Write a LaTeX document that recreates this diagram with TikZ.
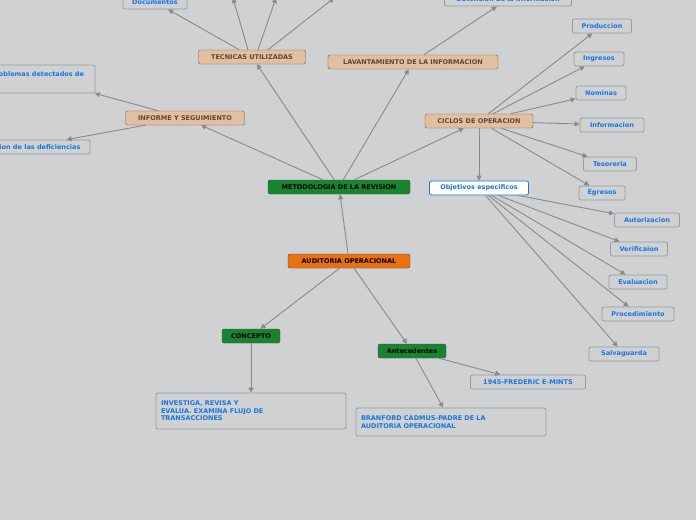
\documentclass[tikz,border=0pt]{standalone}
\usepackage{fontspec}
\setmainfont{DejaVu Sans}
\usetikzlibrary{arrows.meta}
\definecolor{bg}{HTML}{D0D1D3}
\definecolor{link}{HTML}{8A8A8A}
\definecolor{tan}{HTML}{E3BF9F}
\definecolor{tanline}{HTML}{6E5A48}
\definecolor{grn}{HTML}{188430}
\definecolor{org}{HTML}{EB710F}
\definecolor{txtblue}{HTML}{1A74E0}
\definecolor{leafline}{HTML}{9A9B9D}
\begin{document}
\begin{tikzpicture}[x=1pt,y=-1pt,
    every node/.style={rounded corners=2pt, font=\fontsize{6.5}{7.6}\selectfont\bfseries, inner sep=2pt},
    topic/.style={draw=tanline, fill=tan, text=tanline!80!black, minimum height=14pt},
    main/.style={draw=black!70, fill=grn, text=black, minimum height=14pt},
    root/.style={draw=black!70, fill=org, text=black, minimum height=14pt},
    leaf/.style={draw=leafline, line width=0.8pt, text=txtblue, minimum height=14pt},
    arr/.style={draw=link, line width=0.9pt, -{Triangle[length=5pt,width=5pt]}}]
  \fill[bg] (0,0) rectangle (696,520);
  \useasboundingbox (0,0) rectangle (696,520);

  % main branches
  \node[root, minimum width=122pt] (aud) at (349,261) {AUDITORIA OPERACIONAL};
  \node[main, minimum width=142pt] (met) at (339,187) {METODOLOGIA DE LA REVISION};
  \node[main, minimum width=58pt] (con) at (251,336) {CONCEPTO};
  \node[main, minimum width=68pt] (ant) at (412,351) {Antecedentes};

  % metodologia
  \node[topic, minimum width=107pt] (tec) at (252,57) {TECNICAS UTILIZADAS};
  \node[topic, minimum width=170pt] (lev) at (413,62) {LAVANTAMIENTO DE LA INFORMACION};
  \node[topic, minimum width=119pt] (inf) at (185,118) {INFORME Y SEGUIMIENTO};
  \node[topic, minimum width=108pt] (cic) at (479,121) {CICLOS DE OPERACION};
  \node[leaf, fill=white, draw=txtblue, minimum width=99pt] (obj) at (479,188) {Objetivos especificos};

  % leaves
  \node[leaf, minimum width=64pt] (doc) at (155,2) {Documentos};
  \node[leaf, minimum width=127pt] (obt) at (508,-1) {Obtencion de la informacion};
  \node[leaf, minimum width=106pt, minimum height=28pt, align=left, text width=102pt] (pro) at (42,79) {Problemas detectados de\\\strut};
  \node[leaf, minimum width=128pt] (cor) at (26,147) {Correccion de las deficiencias};
  \node[leaf, minimum width=59pt] (prod) at (602,26) {Produccion};
  \node[leaf, minimum width=50pt] (ing) at (599,59) {Ingresos};
  \node[leaf, minimum width=50pt] (nom) at (601,93) {Nominas};
  \node[leaf, minimum width=64pt] (infm) at (612,125) {Informacion};
  \node[leaf, minimum width=53pt] (tes) at (610,164) {Tesoreria};
  \node[leaf, minimum width=46pt] (egr) at (602,193) {Egresos};
  \node[leaf, minimum width=65pt] (aut) at (647,220) {Autorizacion};
  \node[leaf, minimum width=57pt] (ver) at (639,249) {Verificaion};
  \node[leaf, minimum width=58pt] (eva) at (638,282) {Evaluacion};
  \node[leaf, minimum width=72pt] (proc) at (638,314) {Procedimiento};
  \node[leaf, minimum width=70pt] (sal) at (624,354) {Salvaguarda};
  \node[leaf, minimum width=115pt] (fre) at (528,382) {1945-FREDERIC E-MINTS};
  \node[leaf, minimum width=190pt, minimum height=28pt, align=left, text width=180pt] (bra) at (451,422) {BRANFORD CADMUS-PADRE DE LA\\AUDITORIA OPERACIONAL};
  \node[leaf, minimum width=190pt, minimum height=36pt, align=left, text width=180pt] (inv) at (251,411) {INVESTIGA, REVISA Y\\EVALUA. EXAMINA FLUJO DE\\TRANSACCIONES};

  \coordinate (up1) at (233,-2);
  \coordinate (up2) at (276,-2);
  \coordinate (up3) at (334,-2);

  % connectors
  \draw[arr] (aud) -- (met);
  \draw[arr] (aud) -- (con);
  \draw[arr] (aud) -- (ant);
  \draw[arr] (met) -- (tec);
  \draw[arr] (met) -- (lev);
  \draw[arr] (met) -- (inf);
  \draw[arr] (met) -- (cic);
  \draw[arr] (tec) -- (doc);
  \draw[arr] (tec.north) ++(-4,0) -- (up1);
  \draw[arr] (tec.north) ++(6,0) -- (up2);
  \draw[arr] (tec.north) ++(16,0) -- (up3);
  \draw[arr] (lev) -- (obt);
  \draw[arr] (inf) -- (pro);
  \draw[arr] (inf) -- (cor);
  \foreach \t in {prod,ing,nom,infm,tes,egr,obj}
    \draw[arr] (cic) -- (\t);
  \foreach \t in {aut,ver,eva,proc,sal}
    \draw[arr] (obj) -- (\t);
  \draw[arr] (con) -- (inv);
  \draw[arr] (ant) -- (fre);
  \draw[arr] (ant) -- (bra);
\end{tikzpicture}
\end{document}
